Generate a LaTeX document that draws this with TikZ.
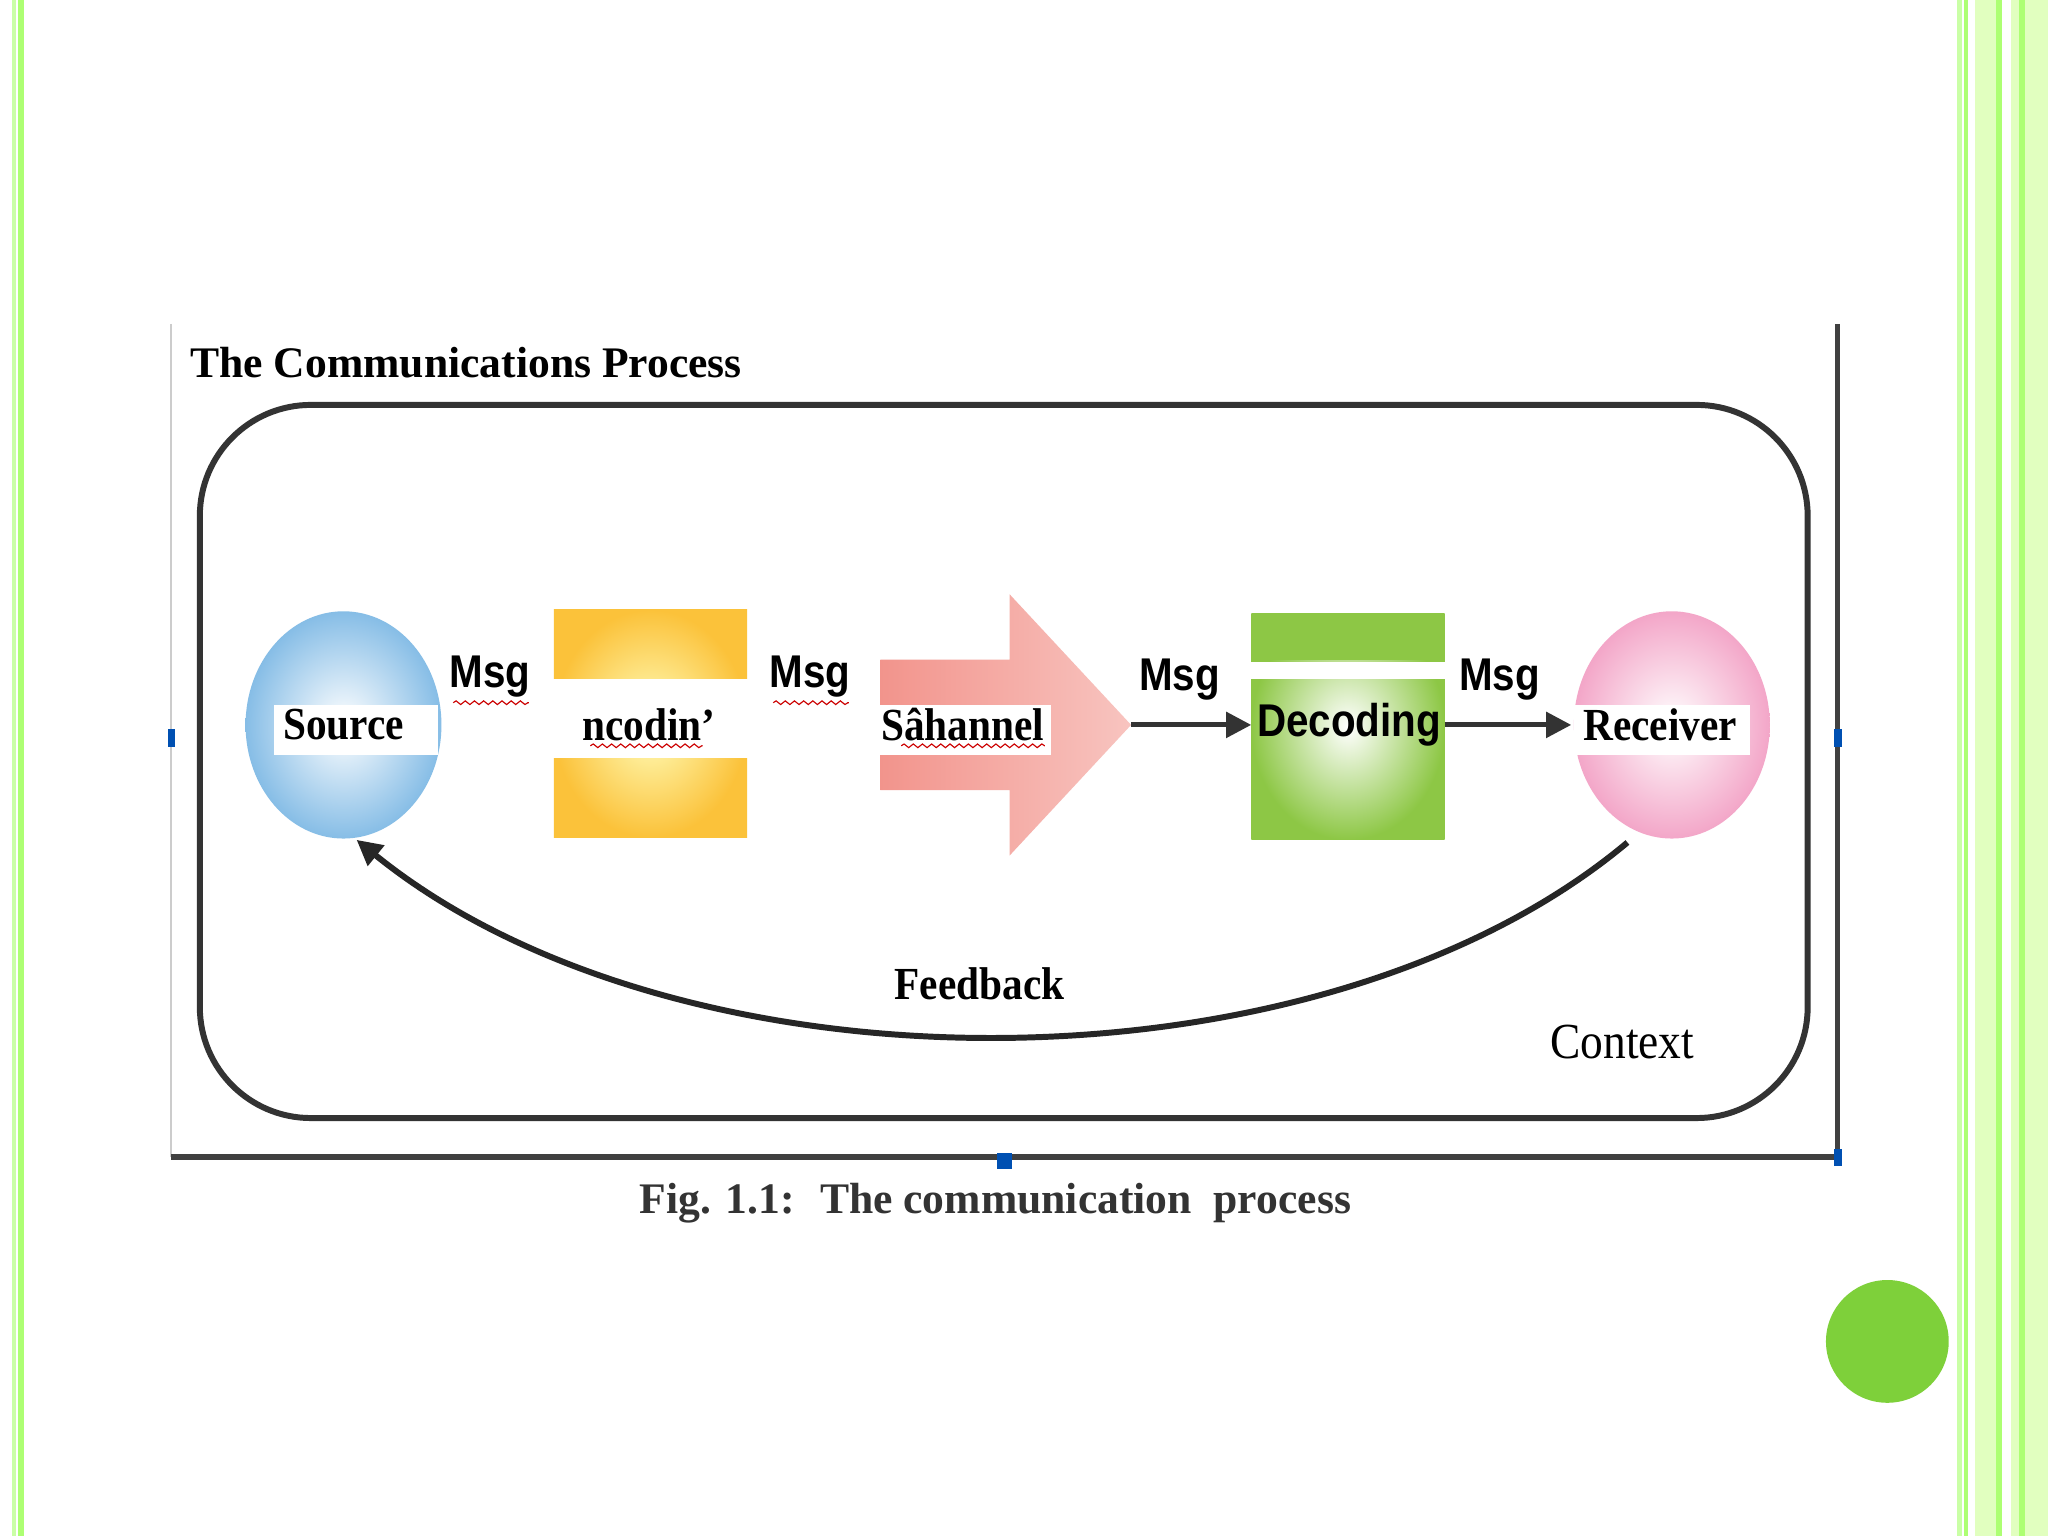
\documentclass[tikz,border=0pt]{standalone}
\usepackage{fontspec}
\setmainfont{Liberation Serif}
\setsansfont{Liberation Sans}
\usetikzlibrary{decorations.pathmorphing,arrows.meta}
\definecolor{cblue}{HTML}{86BDE6}
\definecolor{cyel}{HTML}{FBC23A}
\definecolor{csal}{HTML}{F2948C}
\definecolor{cgrn}{HTML}{8DC745}
\definecolor{cpink}{HTML}{F3A6C8}
\definecolor{cdot}{HTML}{7ED03A}
\begin{document}
\begin{tikzpicture}[x=0.1mm,y=-0.1mm,
  band/.style={fill=white,draw=none},
  lbl/.style={font=\fontsize{10}{12}\selectfont\bfseries, inner sep=0, xscale=0.9},
  msg/.style={font=\sffamily\fontsize{10}{12}\selectfont\bfseries, inner sep=0, xscale=0.88},
  squig/.style={red!80!black,line width=0.25pt,decorate,decoration={snake,amplitude=0.4pt,segment length=2pt}},
  handle/.style={fill=blue!55!cyan!70!black,draw=none},
  conn/.style={line width=1.1pt,-{Triangle[length=5.5pt,width=5.5pt]}}]
\useasboundingbox (0,0) rectangle (1568,1176);
\fill[white] (0,0) rectangle (1568,1176);
% side borders
\fill[green!45!lime!35] (9,0) rectangle (12,1176);
\fill[green!45!lime!55] (14,0) rectangle (18,1176);
\fill[green!45!lime!35] (1498,0) rectangle (1502,1176);
\fill[green!45!lime!55] (1504,0) rectangle (1507,1176);
\fill[green!30!lime!25] (1512,0) rectangle (1528,1176);
\fill[green!45!lime!55] (1528,0) rectangle (1533,1176);
\fill[green!30!lime!25] (1540,0) rectangle (1568,1176);
\fill[green!45!lime!55] (1546,0) rectangle (1550,1176);
% frame
\coordinate (fl1) at (131,248); \coordinate (fl2) at (131,886);
\coordinate (fr1) at (1407,248); \coordinate (fr2) at (1407,886);
\draw[gray!40,line width=0.5pt] (fl1) -- (fl2);
\draw[black!75,line width=1.2pt] (fr1) -- (fr2) -- (fl2);
\fill[handle] (763,883) rectangle (775,895);
\fill[handle] (129,558) rectangle (134,572);
\fill[handle] (1404,558) rectangle (1410,572);
\fill[handle] (1404,880) rectangle (1410,893);
\node[anchor=west,font=\fontsize{9.5}{11}\selectfont\bfseries,inner sep=0] (title) at (145,278) {The Communications Process};
% context box
\draw[black!80,line width=1.3pt,rounded corners=8.5mm] (153,310) rectangle (1384,856);
% source
\shade[inner color=white,outer color=cblue] (263,555) ellipse (75 and 87);
\fill[band] (210,540) rectangle (335,578);
\node[lbl] (source) at (263,555) {Source};
% encoding
\shade[inner color=yellow!25,outer color=cyel] (424,467) rectangle (572,641);
\fill[band] (412,520) rectangle (582,580);
\node[lbl] (enc) at (497,555) {ncodin’};
\draw[squig] (452,571) -- (538,571);
% channel
\shade[left color=csal,right color=csal!55]
  (674,505) -- (773,505) -- (773,455) -- (866,555) -- (773,655) -- (773,605) -- (674,605) -- cycle;
\fill[band] (670,540) rectangle (805,578);
\node[lbl] (chan) at (737,555) {Sâhannel};
\draw[squig] (690,571) -- (800,571);
% decoding
\shade[inner color=white,outer color=cgrn] (958,470) rectangle (1106,643);
\fill[cgrn] (958,470) rectangle (1106,505);
\fill[band] (958,507) rectangle (1106,520);
\node[msg] (dec) at (1033,555) {Decoding};
% receiver
\shade[inner color=white,outer color=cpink] (1280,555) ellipse (75 and 87);
\fill[band] (1205,540) rectangle (1340,578);
\node[lbl] (rec) at (1271,555) {Receiver};
% msgs
\node[msg] (m1) at (375,518) {Msg};
\draw[squig] (347,538) -- (405,538);
\node[msg] (m2) at (620,518) {Msg};
\draw[squig] (592,538) -- (650,538);
\node[msg] (m3) at (903,520) {Msg};
\node[msg] (m4) at (1148,520) {Msg};
\coordinate (chtip) at (866,555);
\coordinate (decl) at (958,555);
\coordinate (decr) at (1106,555);
\coordinate (recl) at (1203,555);
\draw[conn,black!80] (chtip) -- (decl);
\draw[conn,black!80] (decr) -- (recl);
% feedback
\coordinate (fb1) at (1246,645); \coordinate (fb2) at (273,643);
\draw[conn,black!85,line width=1.3pt] (fb1) .. controls (1010,843) and (520,843) .. (fb2);
\node[lbl] (fb) at (750,753) {Feedback};
\node[font=\fontsize{11}{13}\selectfont,inner sep=0,xscale=0.9] (ctx) at (1242,798) {Context};
\node[font=\fontsize{9.5}{11}\selectfont\bfseries,inner sep=0,text=black!80] (cap) at (762,921) {Fig. 1.1:~ The communication~ process};
% green dot
\fill[cdot] (1445,1027) circle (47);
\end{tikzpicture}
\end{document}
